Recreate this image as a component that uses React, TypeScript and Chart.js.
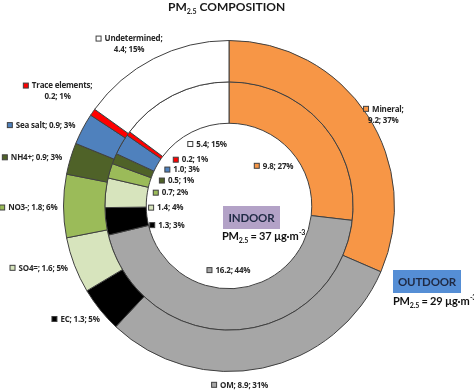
import { useEffect, useRef } from "react";
import { Chart, registerables } from "chart.js";

Chart.register(...registerables);

// ---- data ----
const components = ["Mineral", "OM", "EC", "SO4=", "NO3-", "NH4+", "Sea salt", "Trace elements", "Undetermined"];
const outdoorValues = [9.2, 8.9, 1.3, 1.6, 1.8, 0.9, 0.9, 0.2, 4.4];
const outdoorPercents = [37, 31, 5, 5, 6, 3, 3, 1, 15];
const indoorValues = [9.8, 16.2, 1.3, 1.4, 0.7, 0.5, 1.0, 0.2, 5.4];
const indoorPercents = [27, 44, 3, 4, 2, 1, 3, 1, 15];
const outdoorTotal = 29;
const indoorTotal = 37;
const wrappedOuter = ["Mineral", "Trace elements", "Undetermined"];
const colors = ["#F79646", "#A6A6A6", "#000000", "#D7E4BD", "#9BBB59", "#4F6228", "#4F81BD", "#FF0000", "#FFFFFF"];

// label placement tweaks (px), outer ring then inner ring
const outerNudge = [[-6, 9], [-30, 6], [-1, 2.5], [-3, -1], [0, 2], [-4, 2.5], [-6, 2], [-1.5, -11], [-6.5, 1]];
const innerNudge = [[0.5, 9], [-4, -8.5], [-1.5, 10.5], [-2.5, 10], [0, 8], [4, 3], [6, 0.5], [11, -3], [4.5, 4]];

const LABEL_FAMILY = '"Open Sans", Lato, "Liberation Sans", sans-serif';
const HEAD_FAMILY = 'Lato, "Open Sans", "Liberation Sans", sans-serif';
const LABEL_FONT = `bold 8px ${LABEL_FAMILY}`;
const LABEL_SPACING = "-0.2px";
const LH = 11;
const MK = 6;

function outerLines(i: number): string[] {
  const v = outdoorValues[i].toFixed(1) + "; " + outdoorPercents[i] + "%";
  if (wrappedOuter.includes(components[i])) return [components[i] + ";", v];
  return [components[i] + "; " + v];
}
function innerLines(i: number): string[] {
  return [indoorValues[i].toFixed(1) + "; " + indoorPercents[i] + "%"];
}

function drawLabel(ctx: CanvasRenderingContext2D, lines: string[], color: string, cx: number, cy: number) {
  const widths = lines.map((l, k) => ctx.measureText(l).width + (k === 0 ? MK + 3 : 0));
  const H = lines.length * LH;
  lines.forEach((l, k) => {
    const y = cy - H / 2 + LH * (k + 0.5);
    let x = cx - widths[k] / 2;
    if (k === 0) {
      ctx.fillStyle = color;
      ctx.fillRect(x + 0.5, y - MK / 2, MK - 1, MK - 1);
      ctx.strokeStyle = "#404040";
      ctx.lineWidth = 1;
      ctx.strokeRect(x + 0.5, y - MK / 2, MK - 1, MK - 1);
      x += MK + 3;
    }
    ctx.fillStyle = "#262626";
    ctx.fillText(l, x, y);
  });
}

function blockSize(ctx: CanvasRenderingContext2D, lines: string[]) {
  const W = Math.max(...lines.map((l, k) => ctx.measureText(l).width + (k === 0 ? MK + 3 : 0)));
  return { W, H: lines.length * LH };
}

function drawPM(ctx: CanvasRenderingContext2D, x: number, y: number, size: number, rest: string, sup: string) {
  ctx.font = `bold ${size}px ${HEAD_FAMILY}`;
  ctx.textAlign = "left";
  ctx.textBaseline = "alphabetic";
  ctx.fillText("PM", x, y);
  x += ctx.measureText("PM").width;
  ctx.font = `bold ${Math.round(size * 0.62)}px ${HEAD_FAMILY}`;
  ctx.fillText("2.5", x, y + size * 0.25);
  x += ctx.measureText("2.5").width;
  ctx.font = `bold ${size}px ${HEAD_FAMILY}`;
  ctx.fillText(rest, x, y);
  x += ctx.measureText(rest).width;
  if (sup) {
    ctx.font = `bold ${Math.round(size * 0.6)}px ${HEAD_FAMILY}`;
    ctx.fillText(sup, x + 0.5, y - size * 0.42);
  }
}

const labelPlugin = {
  id: "compLabels",
  afterDraw(chart: any) {
    const ctx: any = chart.ctx;
    ctx.save();
    ctx.letterSpacing = LABEL_SPACING;
    ctx.font = LABEL_FONT;
    ctx.textAlign = "left";
    ctx.textBaseline = "middle";
    [0, 1].forEach((di) => {
      const meta = chart.getDatasetMeta(di);
      meta.data.forEach((arc: any, i: number) => {
        const a = (arc.startAngle + arc.endAngle) / 2;
        const ca = Math.cos(a);
        const sa = Math.sin(a);
        ctx.font = LABEL_FONT;
        if (di === 0) {
          const lines = outerLines(i);
          const { W, H } = blockSize(ctx, lines);
          const r = arc.outerRadius + 6;
          const cx = arc.x + r * ca + (W / 2) * ca + outerNudge[i][0];
          const cy = arc.y + r * sa + (H / 2) * sa + outerNudge[i][1];
          drawLabel(ctx, lines, colors[i], cx, cy);
        } else {
          const lines = innerLines(i);
          const { W, H } = blockSize(ctx, lines);
          const r = arc.innerRadius - 4;
          const cx = arc.x + r * ca - (W / 2) * ca + innerNudge[i][0];
          const cy = arc.y + r * sa - (H / 2) * sa + innerNudge[i][1];
          drawLabel(ctx, lines, colors[i], cx, cy);
        }
      });
    });

    ctx.letterSpacing = "0px";
    // Title
    ctx.fillStyle = "#1a1a1a";
    drawPM(ctx, 168, 11, 12, " COMPOSITION", "");

    ctx.letterSpacing = "-0.2px";
    // Indoor box
    ctx.fillStyle = "#B3A2C7";
    ctx.fillRect(223, 206, 57, 23);
    ctx.fillStyle = "#1F2A44";
    ctx.font = `bold 11.5px ${HEAD_FAMILY}`;
    ctx.textAlign = "center";
    ctx.textBaseline = "middle";
    ctx.fillText("INDOOR", 251.5, 218);
    ctx.fillStyle = "#111";
    drawPM(ctx, 222, 240, 11, " = " + indoorTotal + " µg·m", "-3");

    // Outdoor box
    ctx.fillStyle = "#558ED5";
    ctx.fillRect(393, 270, 68, 23);
    ctx.fillStyle = "#1F2A44";
    ctx.font = `bold 11.5px ${HEAD_FAMILY}`;
    ctx.textAlign = "center";
    ctx.textBaseline = "middle";
    ctx.fillText("OUTDOOR", 427, 282);
    ctx.fillStyle = "#111";
    drawPM(ctx, 393, 305, 11, " = " + outdoorTotal + " µg·m", "-3");
    ctx.restore();
  },
};

export default function App() {
  const ref = useRef<HTMLCanvasElement | null>(null);
  useEffect(() => {
    if (!ref.current) return;
    const chart = new Chart(ref.current, {
      type: "doughnut",
      data: {
        labels: components,
        datasets: [
          { label: "Outdoor", data: outdoorValues, backgroundColor: colors, borderColor: "#404040", borderWidth: 1 },
          { label: "Indoor", data: indoorValues, backgroundColor: colors, borderColor: "#404040", borderWidth: 1 },
        ],
      },
      options: {
        responsive: false,
        animation: false,
        cutout: "50%",
        layout: { padding: { top: 40, bottom: 18, left: 0, right: 16 } },
        plugins: { legend: { display: false }, tooltip: { enabled: false }, title: { display: false } },
      },
      plugins: [labelPlugin],
    });
    return () => chart.destroy();
  }, []);
  return (
    <div style={{ position: "absolute", left: 0, top: 0, width: 474, height: 390, background: "#fff" }}>
      <canvas ref={ref} width={474} height={390} />
    </div>
  );
}
